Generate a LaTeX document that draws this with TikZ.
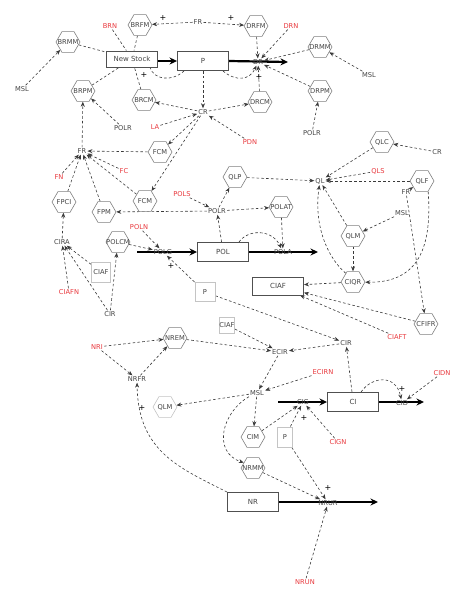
\documentclass[tikz,border=0pt]{standalone}
\usepackage{fontspec}
\setmainfont{DejaVu Sans}
\usetikzlibrary{shapes.geometric,arrows.meta}
\pgfdeclarelayer{bg}
\pgfsetlayers{bg,main}
\definecolor{tgray}{HTML}{444444}
\definecolor{rlbl}{HTML}{E8383D}
\definecolor{hexgray}{HTML}{7F7F7F}
\definecolor{lhex}{HTML}{C4C4C4}
\definecolor{boxgray}{HTML}{505050}
\definecolor{lnkgray}{HTML}{3A3A3A}
\tikzset{
  txt/.style={text=tgray, inner sep=1pt},
  redlbl/.style={text=rlbl, inner sep=1pt},
  plussign/.style={text=black, inner sep=0pt, font=\fontsize{8}{9}\selectfont},
  hexv/.style={regular polygon, regular polygon sides=6, minimum size=24pt, inner sep=0pt,
    draw=hexgray, fill=white, line width=0.6pt, label={[text=tgray,inner sep=0pt]center:#1}},
  hexlight/.style={hexv=#1, draw=lhex},
  stockbox/.style={draw=boxgray, line width=0.9pt, fill=white, minimum width=51pt,
    minimum height=19pt, inner sep=0pt, text=tgray, font=\fontsize{7}{8}\selectfont},
  shadowbox/.style={draw=lhex, line width=0.9pt, fill=white, minimum width=17pt,
    minimum height=19pt, inner sep=0pt, text=tgray},
  lnk/.style={draw=lnkgray, line width=0.6pt, dash pattern=on 2.6pt off 2.2pt,
    -{Stealth[length=5pt,width=4pt]}},
  lnkn/.style={draw=lnkgray, line width=0.6pt, dash pattern=on 2.6pt off 2.2pt},
  flowarr/.style={draw=black, line width=2.2pt, -{Stealth[length=7.5pt,width=7pt]}}
}
\begin{document}
\begin{tikzpicture}[x=1pt,y=-1pt,font=\fontsize{6.7}{8}\selectfont]
\useasboundingbox (0,0) rectangle (460,600);
% ---- top: population sector
\node[hexv=BRMM] (brmm) at (68,42) {};
\node[txt] (msl1) at (22,89) {MSL};
\node[redlbl] (brn) at (110,26) {BRN};
\node[hexv=BRFM] (brfm) at (140,25) {};
\node[stockbox, minimum height=16pt] (newstock) at (132,59) {New Stock};
\node[txt] (frtop) at (198,22) {FR};
\node[plussign] (pl1) at (163,18) {+};
\node[plussign] (pl2) at (231,18) {+};
\node[hexv=DRFM] (drfm) at (256,26) {};
\node[redlbl] (drn) at (291,26) {DRN};
\node[stockbox] (p) at (203,61) {P};
\node[txt] (dr) at (258,62) {DR};
\coordinate (drend) at (288,62);
\node[plussign] (pl3) at (144,75) {+};
\node[hexv=BRPM] (brpm) at (83,91) {};
\node[hexv=BRCM] (brcm) at (144,100) {};
\node[txt] (polr1) at (123,128) {POLR};
\node[redlbl] (la) at (155,127) {LA};
\node[txt] (cr1) at (203,112) {CR};
\node[hexv=DRCM] (drcm) at (260,102) {};
\node[plussign] (pl4) at (259,77) {+};
\node[redlbl] (pdn) at (250,142) {PDN};
\node[hexv=DRMM] (drmm) at (320,47) {};
\node[txt] (msl2) at (369,75) {MSL};
\node[hexv=DRPM] (drpm) at (320,91) {};
\node[txt] (polr2) at (312,133) {POLR};
% ---- food / pollution
\node[hexv=QLC] (qlc) at (382,142) {};
\node[txt] (cr2) at (437,152) {CR};
\node[txt] (fr1) at (82,151) {FR};
\node[hexv=FCM] (fcm1) at (160,152) {};
\node[redlbl] (fn) at (59,177) {FN};
\node[redlbl] (fc) at (124,171) {FC};
\node[hexv=FPCI] (fpci) at (64,202) {};
\node[hexv=FPM] (fpm) at (104,212) {};
\node[hexv=FCM] (fcm2) at (145,201) {};
\node[redlbl] (poln) at (139,227) {POLN};
\node[txt] (cira) at (62,242) {CIRA};
\node[hexv=POLCM] (polcm) at (118,242) {};
\node[txt] (polg) at (163,252) {POLG};
\coordinate (polgstart) at (137,252);
\node[stockbox] (pol) at (223,252) {POL};
\node[txt] (pola) at (283,252) {POLA};
\coordinate (polaend) at (318,252);
\node[hexv=POLAT] (polat) at (281,207) {};
\node[txt] (polr3) at (217,211) {POLR};
\node[redlbl] (pols) at (182,194) {POLS};
\node[hexv=QLP] (qlp) at (235,177) {};
% ---- quality of life
\node[txt] (ql) at (320,181) {QL};
\node[redlbl] (qls) at (378,171) {QLS};
\node[hexv=QLF] (qlf) at (422,181) {};
\node[txt] (fr2) at (406,192) {FR};
\node[txt] (msl3) at (402,213) {MSL};
\node[hexv=QLM] (qlm1) at (353,236) {};
\node[hexv=CIQR] (ciqr) at (353,282) {};
\node[stockbox, minimum height=18pt] (ciaf1) at (278,286) {CIAF};
\node[hexv=CFIFR] (cfifr) at (426,324) {};
\node[redlbl] (ciaft) at (397,337) {CIAFT};
\node[shadowbox, minimum width=20pt] (pbox1) at (205,292) {P};
\node[plussign] (pl5) at (171,266) {+};
\node[shadowbox, minimum width=19pt, minimum height=20pt] (ciaf2) at (101,272) {CIAF};
\node[redlbl] (ciafn) at (69,292) {CIAFN};
\node[txt] (cir1) at (110,314) {CIR};
% ---- capital / resources
\node[redlbl] (nri) at (97,347) {NRI};
\node[hexv=NREM] (nrem) at (175,338) {};
\node[txt] (nrfr) at (137,379) {NRFR};
\node[plussign] (pl6) at (142,408) {+};
\node[shadowbox, minimum width=15pt, minimum height=16pt] (ciaf3) at (227,325) {CIAF};
\node[txt] (ecir) at (280,352) {ECIR};
\node[txt] (cir2) at (346,343) {CIR};
\node[redlbl] (ecirn) at (323,372) {ECIRN};
\node[txt] (msl4) at (257,393) {MSL};
\node[hexlight=QLM] (qlm2) at (165,407) {};
\node[hexv=CIM] (cim) at (253,437) {};
\node[hexv=NRMM] (nrmm) at (253,468) {};
\node[shadowbox, minimum width=15pt, minimum height=20pt] (pbox2) at (285,437) {P};
\node[plussign] (pl7) at (304,418) {+};
\node[txt] (cig) at (303,402) {CIG};
\coordinate (cigstart) at (278,402);
\node[stockbox] (ci) at (353,402) {CI};
\node[txt] (cid) at (402,403) {CID};
\coordinate (cidend) at (424,402);
\node[plussign] (pl8) at (402,389) {+};
\node[redlbl] (cidn) at (442,373) {CIDN};
\node[redlbl] (cign) at (338,442) {CIGN};
\node[plussign] (pl9) at (328,488) {+};
\node[stockbox] (nr) at (253,502) {NR};
\node[txt] (nrur) at (328,503) {NRUR};
\coordinate (nrurend) at (378,502);
\node[redlbl] (nrun) at (305,582) {NRUN};

\begin{pgfonlayer}{bg}
% flows
\draw[flowarr] (newstock.east |- p.west) -- (p.west);
\draw[flowarr] (p.east) -- (drend);
\draw[flowarr] (polgstart) -- (pol.west);
\draw[flowarr] (pol.east) -- (polaend);
\draw[flowarr] (cigstart) -- (ci.west);
\draw[flowarr] (ci.east) -- (cidend);
\draw[flowarr] (nr.east) -- (nrurend);
% population links
\draw[lnk] (msl1) -- (brmm);
\draw[lnkn] (brmm) -- (newstock);
\draw[lnkn] (brn) -- (newstock);
\draw[lnkn] (brfm) -- (newstock);
\draw[lnkn] (brpm) -- (newstock);
\draw[lnkn] (brcm) -- (newstock);
\draw[lnkn] ([xshift=7pt]p.south west) .. controls (172,82) and (154,80) .. ([xshift=-8pt]newstock.south east);
\draw[lnk] (frtop) -- (brfm);
\draw[lnk] (frtop) -- (drfm);
\draw[lnk] (drfm) -- (dr);
\draw[lnk] (drn) -- (dr);
\draw[lnk] (drmm) -- (dr);
\draw[lnk] (drpm) -- (dr);
\draw[lnk] (drcm) -- (dr);
\draw[lnk] ([xshift=-6pt]p.south east) .. controls (236,82) and (250,80) .. (dr);
\draw[lnk] (p) -- (cr1);
\draw[lnk] (cr1) -- (brcm);
\draw[lnk] (cr1) -- (drcm);
\draw[lnk] (la) -- (cr1);
\draw[lnk] (pdn) -- (cr1);
\draw[lnk] (cr1) -- (fcm1);
\draw[lnk] (cr1) -- (fcm2);
\draw[lnk] (polr1) -- (brpm);
\draw[lnk] (fr1) -- (brpm);
\draw[lnk] (msl2) -- (drmm);
\draw[lnk] (polr2) -- (drpm);
% food links
\draw[lnk] (fcm1) -- (fr1);
\draw[lnk] (fc) -- (fr1);
\draw[lnk] (fn) -- (fr1);
\draw[lnk] (fpci) -- (fr1);
\draw[lnk] (fpm) -- (fr1);
\draw[lnk] (fcm2) -- (fr1);
\draw[lnk] (cira) -- (fpci);
\draw[lnk] (ciaf2) -- (cira);
\draw[lnk] (ciafn) -- (cira);
\draw[lnk] (cir1) -- (cira);
\draw[lnk] (cir1) -- (polcm);
% pollution links
\draw[lnk] (polcm) -- (polg);
\draw[lnk] (poln) -- (polg);
\draw[lnk] (pbox1) -- (polg);
\draw[lnk] (pols) -- (polr3);
\draw[lnk] (pol) -- (polr3);
\draw[lnk] (polr3) -- (polat);
\draw[lnk] (polr3) -- (qlp);
\draw[lnk] (polr3) -- (fpm);
\draw[lnk] (polat) -- (pola);
\draw[lnk] ([xshift=-10pt]pol.north east) .. controls (248,229) and (272,229) .. (pola);
% quality of life links
\draw[lnk] (qlp) -- (ql);
\draw[lnk] (qlc) -- (ql);
\draw[lnk] (cr2) -- (qlc);
\draw[lnk] (qls) -- (ql);
\draw[lnk] (qlf) -- (ql);
\draw[lnk] (fr2) -- (qlf);
\draw[lnk] (msl3) -- (qlm1);
\draw[lnk] (qlm1) -- (ql);
\draw[lnk] (qlm1) -- (ciqr);
\draw[lnk] (ciqr.130) .. controls (325,255) and (314,222) .. (ql);
\draw[lnk] (qlf.-60) .. controls (432,245) and (420,283) .. (ciqr);
\draw[lnk] (ciqr) -- (ciaf1);
\draw[lnk] (fr2) -- (cfifr);
\draw[lnk] (cfifr) -- (ciaf1);
\draw[lnk] (ciaft) -- (ciaf1);
\draw[lnk] (pbox1) -- (cir2);
% capital / resource links
\draw[lnk] (nri) -- (nrem);
\draw[lnk] (nri) -- (nrfr);
\draw[lnk] (nrfr) -- (nrem);
\draw[lnk] (nr.north west) .. controls (180,468) and (138,452) .. (nrfr);
\draw[lnk] (nrem) -- (ecir);
\draw[lnk] (ciaf3) -- (ecir);
\draw[lnk] (cir2) -- (ecir);
\draw[lnk] ([xshift=-1pt]ci.north) -- (cir2);
\draw[lnk] (ecir) -- (msl4);
\draw[lnk] (ecirn) -- (msl4);
\draw[lnk] (msl4) -- (qlm2);
\draw[lnk] (msl4) -- (cim);
\draw[lnk] (msl4.south west) .. controls (222,412) and (212,452) .. (nrmm.150);
\draw[lnk] (cim) -- (cig);
\draw[lnk] (pbox2) -- (cig);
\draw[lnk] (cign) -- (cig);
\draw[lnk] (nrmm) -- (nrur);
\draw[lnk] (pbox2) -- (nrur);
\draw[lnk] (nrun) -- (nrur);
\draw[lnk] ([xshift=8pt]ci.north) .. controls (372,376) and (396,374) .. (cid);
\draw[lnk] (cidn) -- (cid);
\end{pgfonlayer}
\end{tikzpicture}
\end{document}
